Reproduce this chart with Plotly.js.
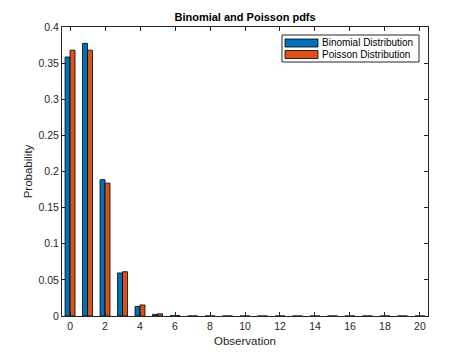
<!DOCTYPE html>
<html><head><meta charset="utf-8">
<script src="https://cdn.plot.ly/plotly-3.0.1.min.js"></script>
<style>html,body{margin:0;padding:0;background:#fff}</style>
</head><body><div id="chart" style="width:474px;height:355px"></div>
<script>
const observations = [0,1,2,3,4,5,6,7,8,9,10,11,12,13,14,15,16,17,18,19,20];
const binomialPdf = [0.3585,0.3774,0.1887,0.0596,0.0133,0.0022,0.0003,0.00003,0,0,0,0,0,0,0,0,0,0,0,0,0];
const poissonPdf  = [0.3679,0.3679,0.1839,0.0613,0.0153,0.0031,0.0005,0.00007,0.00001,0,0,0,0,0,0,0,0,0,0,0,0];
const seriesNames = ['Binomial Distribution','Poisson Distribution'];
const seriesColors = ['#0072BD','#D95319'];
const xTicks = [0,2,4,6,8,10,12,14,16,18,20];
const yTicks = [0,0.05,0.1,0.15,0.2,0.25,0.3,0.35,0.4];
const yTickText = ['0','0.05','0.1','0.15','0.2','0.25','0.3','0.35','0.4'];

const traces = [binomialPdf, poissonPdf].map((vals,i)=>({
  type:'bar', x:observations, y:vals, name:seriesNames[i],
  marker:{color:seriesColors[i], line:{color:'#000', width:0.8}},
  showlegend:false, hoverinfo:'skip'
}));

const axisCommon = {
  showline:true, linecolor:'#262626', linewidth:1, mirror:'allticks',
  ticks:'inside', ticklen:4, tickcolor:'#262626', showgrid:false, zeroline:false,
  tickfont:{family:'Liberation Sans, Arial, sans-serif', size:10.5, color:'#262626'}
};

const shapes = [];
const annotations = [];
const plotL = 62, plotR = 428, plotT = 27, plotB = 316;
const px = v => (v - plotL)/(plotR-plotL);
const py = v => (plotB - v)/(plotB-plotT);
shapes.push({type:'rect', xref:'paper', yref:'paper', x0:px(282), x1:px(419), y0:py(62), y1:py(35),
  line:{color:'#262626', width:1}, fillcolor:'#fff', layer:'above'});
const rowsY = [43, 54.5];
seriesNames.forEach((n,i)=>{
  shapes.push({type:'rect', xref:'paper', yref:'paper', x0:px(285), x1:px(318), y0:py(rowsY[i]+4), y1:py(rowsY[i]-4),
    line:{color:'#000', width:0.8}, fillcolor:seriesColors[i], layer:'above'});
  annotations.push({xref:'paper', yref:'paper', x:px(320), y:py(rowsY[i]), xanchor:'left', yanchor:'middle',
    text:n, showarrow:false, font:{family:'Liberation Sans, Arial, sans-serif', size:10, color:'#000'}});
});

const layout = {
  width:474, height:355,
  margin:{l:62, r:46, t:27, b:39},
  paper_bgcolor:'#fff', plot_bgcolor:'#fff',
  barmode:'group', bargap:0.43, bargroupgap:0,
  title:{text:'<b>Binomial and Poisson pdfs</b>', x:0.517, xanchor:'center', y:0.952, yanchor:'middle',
    font:{family:'Liberation Sans, Arial, sans-serif', size:11, color:'#000'}},
  xaxis:Object.assign({}, axisCommon, {range:[-0.46,20.46], tickvals:xTicks,
    title:{text:'Observation', standoff:6, font:{family:'Liberation Sans, Arial, sans-serif', size:11.5, color:'#262626'}}}),
  yaxis:Object.assign({}, axisCommon, {range:[0,0.4], tickvals:yTicks, ticktext:yTickText,
    title:{text:'Probability', standoff:3, font:{family:'Liberation Sans, Arial, sans-serif', size:11.5, color:'#262626'}}}),
  shapes:shapes, annotations:annotations
};
Plotly.newPlot('chart', traces, layout, {staticPlot:true, displayModeBar:false});
</script></body></html>
